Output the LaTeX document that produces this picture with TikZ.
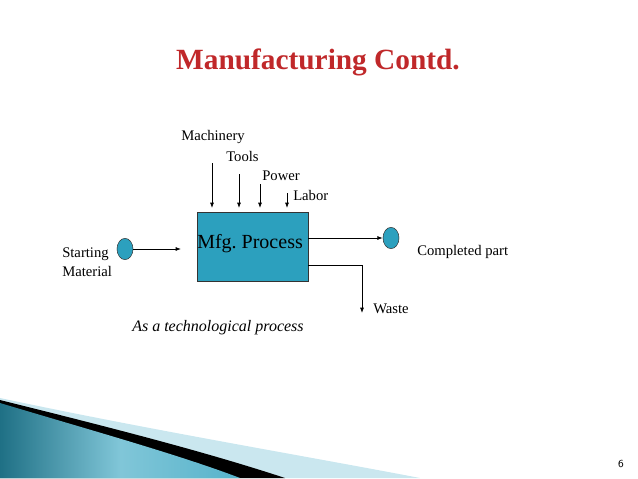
\documentclass[tikz,border=0pt]{standalone}
\usepackage{fontspec}
\setmainfont{Liberation Serif}
\begin{document}
\begin{tikzpicture}[x=0.75pt,y=-0.75pt,
 lbl/.style={inner sep=0pt,font=\fontsize{11}{12}\selectfont},
 arr/.style={-{Latex[length=4pt,width=3pt]},line width=0.6pt},
 dot/.style={ellipse,draw=black!80,fill=teal2,minimum width=12pt,minimum height=16pt,inner sep=0pt}]
\usetikzlibrary{arrows.meta,shapes.geometric}
\definecolor{teal2}{HTML}{2CA0BE}
\definecolor{ttl}{HTML}{C0282A}
\useasboundingbox (0,0) rectangle (638,478);
% swoosh
\fill[teal2!25] (0,398) .. controls (150,430) and (300,455) .. (420,478) -- (0,478) -- cycle;
\fill[black] (0,400) .. controls (100,425) and (200,450) .. (285,478) -- (0,478) -- cycle;
\shade[left color=teal2!70!black,right color=teal2!80,middle color=teal2!60] (0,403) .. controls (90,430) and (180,455) .. (240,478) -- (0,478) -- cycle;
\node[font=\bfseries\fontsize{22}{24}\selectfont,text=ttl] (title) at (318,62) {Manufacturing Contd.};
\node[draw=black!80,fill=teal2,minimum width=83.25pt,minimum height=51.75pt,inner sep=0pt] (box) at (252.5,246.5) {};
\node[anchor=north west,inner sep=0pt,font=\fontsize{15}{16}\selectfont] (bt) at (197,234) {Mfg.\ Process};
\node[dot] (s) at (125,249) {};
\node[dot] (c) at (391,238) {};
\node[lbl,anchor=west] (st) at (62,254) {Starting};
\node[lbl,anchor=west] (mat) at (62,271) {Material};
\node[lbl,anchor=west] (cp) at (417,252) {Completed part};
\node[lbl,anchor=west] (m) at (181,137) {Machinery};
\node[lbl,anchor=west] (t) at (226,156) {Tools};
\node[lbl,anchor=west] (p) at (262,176) {Power};
\node[lbl,anchor=west] (l) at (293,195) {Labor};
\node[lbl,anchor=west] (w) at (373,309) {Waste};
\node[lbl,anchor=west,font=\itshape\fontsize{12}{13}\selectfont] (cap) at (132,328) {As a technological process};
\coordinate (e1) at (181,249);
\draw[arr] (s) -- (e1);
\draw[arr] (box.east |- c) -- (c);
\coordinate (wc) at (362,265);
\coordinate (we) at (362,313);
\draw[arr] (box.east |- wc) -- (wc) -- (we);
\foreach \x/\ya in {212/163,239/174,260/184,287/193}{
 \draw[arr] (\x,\ya) -- (\x,208);}
\node[font=\sffamily\fontsize{8}{9}\selectfont] (pg) at (621,464) {6};
\end{tikzpicture}
\end{document}
